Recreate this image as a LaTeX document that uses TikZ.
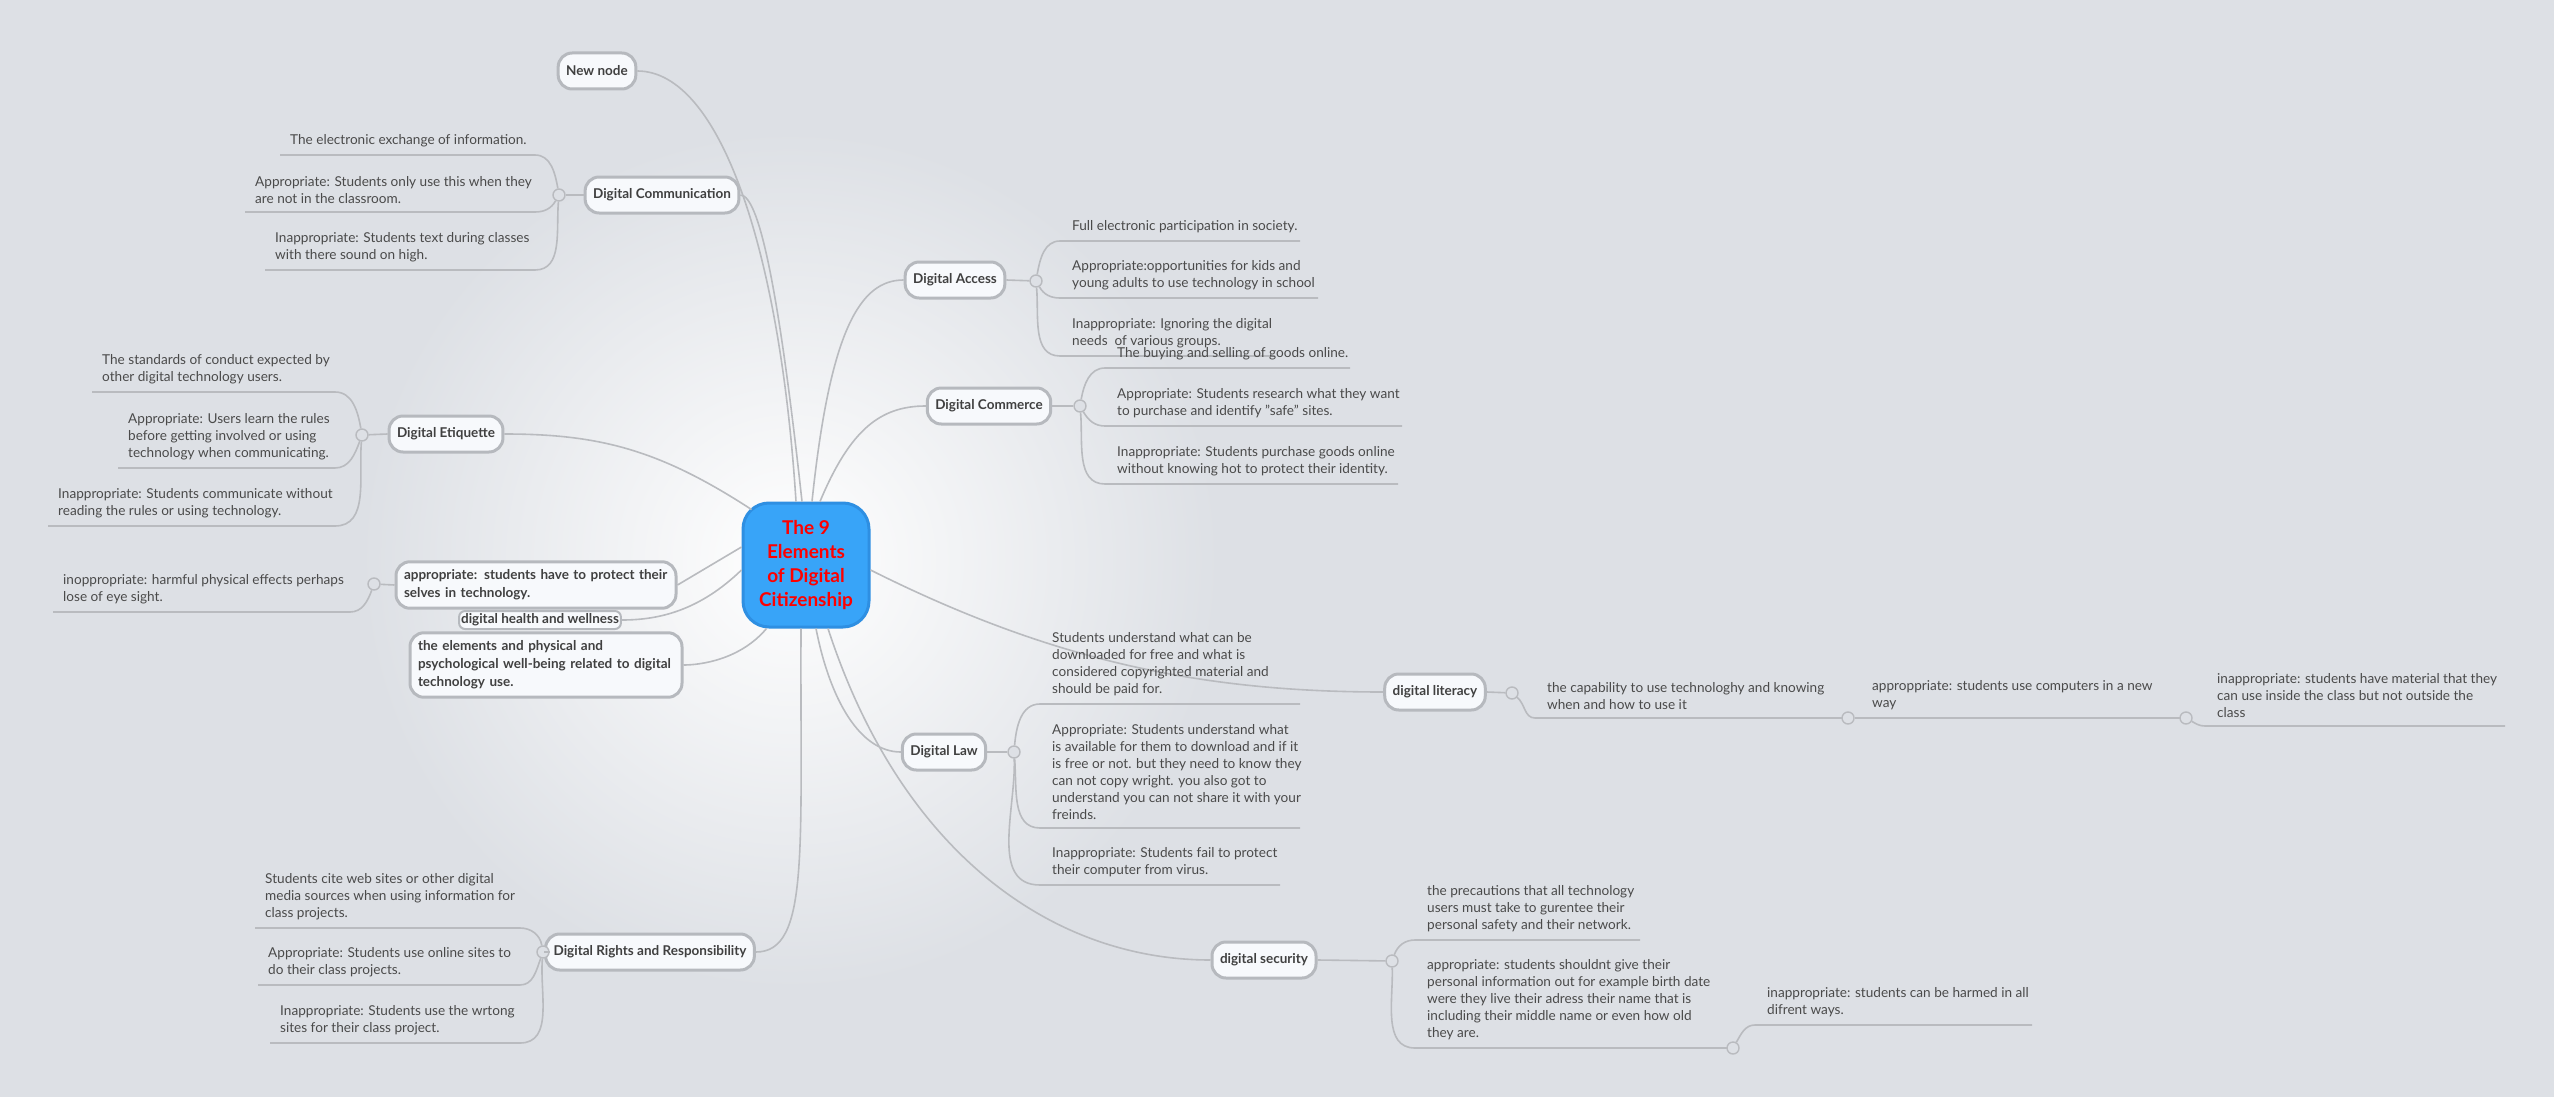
\documentclass[tikz,border=0pt]{standalone}
\usepackage{fontspec}
\setmainfont{Lato}
\begin{document}
\hyphenpenalty=10000 \exhyphenpenalty=10000
\definecolor{bg}{HTML}{DDE0E5}
\definecolor{ln}{HTML}{B9BBBF}
\definecolor{tx}{HTML}{4A4A4A}
\definecolor{nb}{HTML}{B6B9BE}
\definecolor{nf}{HTML}{F7F9FC}
\definecolor{cf}{HTML}{38A4F8}
\definecolor{cb}{HTML}{2E8FE2}
\newcommand\rlf[7]{\coordinate (#6a) at (#2,#3);\coordinate (#6b) at (#4,#3);
  \node[leaf,anchor=south west] (#6) at (#2+12,#3-8) {#5};
  \draw[conn] (#1) to[out=#7,in=180] (#6a) -- (#6b);}
\newcommand\llf[7]{\coordinate (#6a) at (#2,#3);\coordinate (#6b) at (#4,#3);
  \node[leaf,anchor=south west] (#6) at (#4+10,#3-8) {#5};
  \draw[conn] (#1) to[out=#7,in=0] (#6a) -- (#6b);}
\begin{tikzpicture}[x=1pt,y=-1pt,
  conn/.style={draw=ln,line width=1.6pt},
  topic/.style={draw=nb,fill=nf,line width=3pt,rounded corners=14pt,font=\fontsize{13.5}{18}\selectfont\bfseries,text=black!75,inner sep=8pt,minimum height=36pt,align=left},
  leaf/.style={font=\fontsize{13.6}{17}\selectfont,text=tx,align=left,inner sep=0pt},
  dot/.style={circle,draw=ln,fill=bg,line width=1.4pt,minimum size=12pt,inner sep=0pt}]
\useasboundingbox (0,0) rectangle (2554,1097);
\fill[bg] (0,0) rectangle (2554,1097);
\shade[inner color=white,outer color=bg] (790,560) circle (430);
% center
\node[draw=cb,fill=cf,line width=3pt,rounded corners=26pt,minimum width=126pt,minimum height=124pt,align=center,text=red,font=\fontsize{19}{24}\selectfont\bfseries] (c) at (806,565) {The 9\\Elements\\of Digital\\Citizenship};
% topics
\node[topic] (nn) at (597,71) {New node};
\node[topic] (dc) at (662,195) {Digital Communication};
\node[topic] (da) at (955,280) {Digital Access};
\node[topic] (dm) at (989,406) {Digital Commerce};
\node[topic] (de) at (446,434) {Digital Etiquette};
\node[topic,text width=264pt] (ap) at (536,585) {appropriate: students have to protect their\\selves in technology.};
\node[topic,minimum height=18pt,inner sep=2pt,line width=2pt,rounded corners=6pt] (hw) at (540,620) {digital health and wellness};
\node[topic,text width=256pt] (el) at (546,665) {the elements and physical and\\psychological well-being related to digital\\technology use.};
\node[topic] (dl) at (1435,692) {digital literacy};
\node[topic] (lw) at (944,752) {Digital Law};
\node[topic] (dr) at (650,952) {Digital Rights and Responsibility};
\node[topic] (ds) at (1264,960) {digital security};
% main connectors
\draw[conn] (c.north) ++(-10,0) coordinate (c1) .. controls (780,250) and (720,71) .. (nn.east);
\draw[conn] (c.north) ++(-4,0) coordinate (c2) .. controls (780,300) and (760,195) .. (dc.east);
\draw[conn] (c.north) ++(6,0) coordinate (c3) .. controls (830,330) and (860,280) .. (da.west);
\draw[conn] (c.north) ++(14,0) coordinate (c4) .. controls (850,430) and (880,406) .. (dm.west);
\draw[conn] (c.north west) ++(10,8) coordinate (c5) .. controls (660,450) and (600,434) .. (de.east);
\draw[conn] (c.west) ++(0,-18) coordinate (c6) -- (ap.east);
\draw[conn] (c.west) ++(0,5) coordinate (c7) .. controls (700,610) and (660,620) .. (hw.east);
\draw[conn] (c.south west) ++(25,0) coordinate (c8) .. controls (740,660) and (700,665) .. (el.east);
\draw[conn] (c.east) ++(0,5) coordinate (c9) .. controls (1050,660) and (1200,692) .. (dl.west);
\draw[conn] (c.south) ++(10,0) coordinate (c10) .. controls (830,700) and (860,752) .. (lw.west);
\draw[conn] (c.south) ++(-5,0) coordinate (c11) .. controls (800,850) and (810,952) .. (dr.east);
\draw[conn] (c.south) ++(22,0) coordinate (c12) .. controls (900,850) and (1050,960) .. (ds.west);
% dots
\node[dot] (oa) at (1036,281) {}; \draw[conn] (da.east) -- (oa);
\node[dot] (om) at (1080,406) {}; \draw[conn] (dm.east) -- (om);
\node[dot] (ow) at (1014,752) {}; \draw[conn] (lw.east) -- (ow);
\node[dot] (ol) at (1512,693) {}; \draw[conn] (dl.east) -- (ol);
\node[dot] (os) at (1392,961) {}; \draw[conn] (ds.east) -- (os);
\node[dot] (oc) at (559,195) {}; \draw[conn] (dc.west) -- (oc);
\node[dot] (oe) at (362,435) {}; \draw[conn] (de.west) -- (oe);
\node[dot] (op) at (374,584) {}; \draw[conn] (ap.west) -- (op);
\node[dot] (or) at (543,952) {}; \draw[conn] (dr.west) -- (or);
% Digital Access
\rlf{oa}{1060}{241}{1300}{Full electronic participation in society.}{a1}{80}
\rlf{oa}{1060}{298}{1318}{Appropriate:opportunities for kids and\\young adults to use technology in school}{a2}{-60}
\rlf{oa}{1060}{356}{1275}{Inappropriate: Ignoring the digital\\needs\ \ of various groups.}{a3}{-85}
% Commerce
\rlf{om}{1105}{368}{1350}{The buying and selling of goods online.}{m1}{80}
\rlf{om}{1105}{426}{1402}{Appropriate: Students research what they want\\to purchase and identify "safe" sites.}{m2}{-60}
\rlf{om}{1105}{484}{1398}{Inappropriate: Students purchase goods online\\without knowing hot to protect their identity.}{m3}{-85}
% Law
\rlf{ow}{1040}{704}{1300}{Students understand what can be\\downloaded for free and what is\\considered copyrighted material and\\should be paid for.}{w1}{85}
\rlf{ow}{1040}{828}{1300}{Appropriate: Students understand what\\is available for them to download and if it\\is free or not. but they need to know they\\can not copy wright. you also got to\\understand you can not share it with your\\freinds.}{w2}{-85}
\rlf{ow}{1040}{885}{1280}{Inappropriate: Students fail to protect\\their computer from virus.}{w3}{-88}
% literacy
\rlf{ol}{1535}{718}{1848}{the capability to use technologhy and knowing\\when and how to use it}{l1}{-40}
\node[dot] (ol2) at (1848,718) {};
\rlf{ol2}{1860}{718}{2186}{approppriate: students use computers in a new\\way}{l2}{0}
\node[dot] (ol3) at (2186,718) {};
\rlf{ol3}{2205}{726}{2505}{inappropriate: students have material that they\\can use inside the class but not outside the\\class}{l3}{-30}
% security
\rlf{os}{1415}{940}{1640}{the precautions that all technology\\users must take to gurentee their\\personal safety and their network.}{s1}{70}
\rlf{os}{1415}{1048}{1733}{appropriate: students shouldnt give their\\personal information out for example birth date\\were they live their adress their name that is\\including their middle name or even how old\\they are.}{s2}{-88}
\node[dot] (os2) at (1733,1048) {};
\rlf{os2}{1755}{1025}{2032}{inappropriate: students can be harmed in all\\difrent ways.}{s3}{60}
% Communication (left)
\llf{oc}{535}{155}{280}{The electronic exchange of information.}{c1l}{100}
\llf{oc}{535}{212}{245}{Appropriate: Students only use this when they\\are not in the classroom.}{c2l}{-120}
\llf{oc}{535}{270}{265}{Inappropriate: Students text during classes\\with there sound on high.}{c3l}{-95}
% Etiquette
\llf{oe}{335}{392}{92}{The standards of conduct expected by\\other digital technology users.}{e1}{100}
\llf{oe}{335}{468}{118}{Appropriate: Users learn the rules\\before getting involved or using\\technology when communicating.}{e2}{-110}
\llf{oe}{335}{526}{48}{Inappropriate: Students communicate without\\reading the rules or using technology.}{e3}{-95}
% health
\llf{op}{350}{612}{53}{inoppropriate: harmful physical effects perhaps\\lose of eye sight.}{p1}{-110}
% Rights
\llf{or}{520}{928}{255}{Students cite web sites or other digital\\media sources when using information for\\class projects.}{r1}{100}
\llf{or}{520}{985}{258}{Appropriate: Students use online sites to\\do their class projects.}{r2}{-110}
\llf{or}{520}{1043}{270}{Inappropriate: Students use the wrtong\\sites for their class project.}{r3}{-95}
\end{tikzpicture}
\end{document}
